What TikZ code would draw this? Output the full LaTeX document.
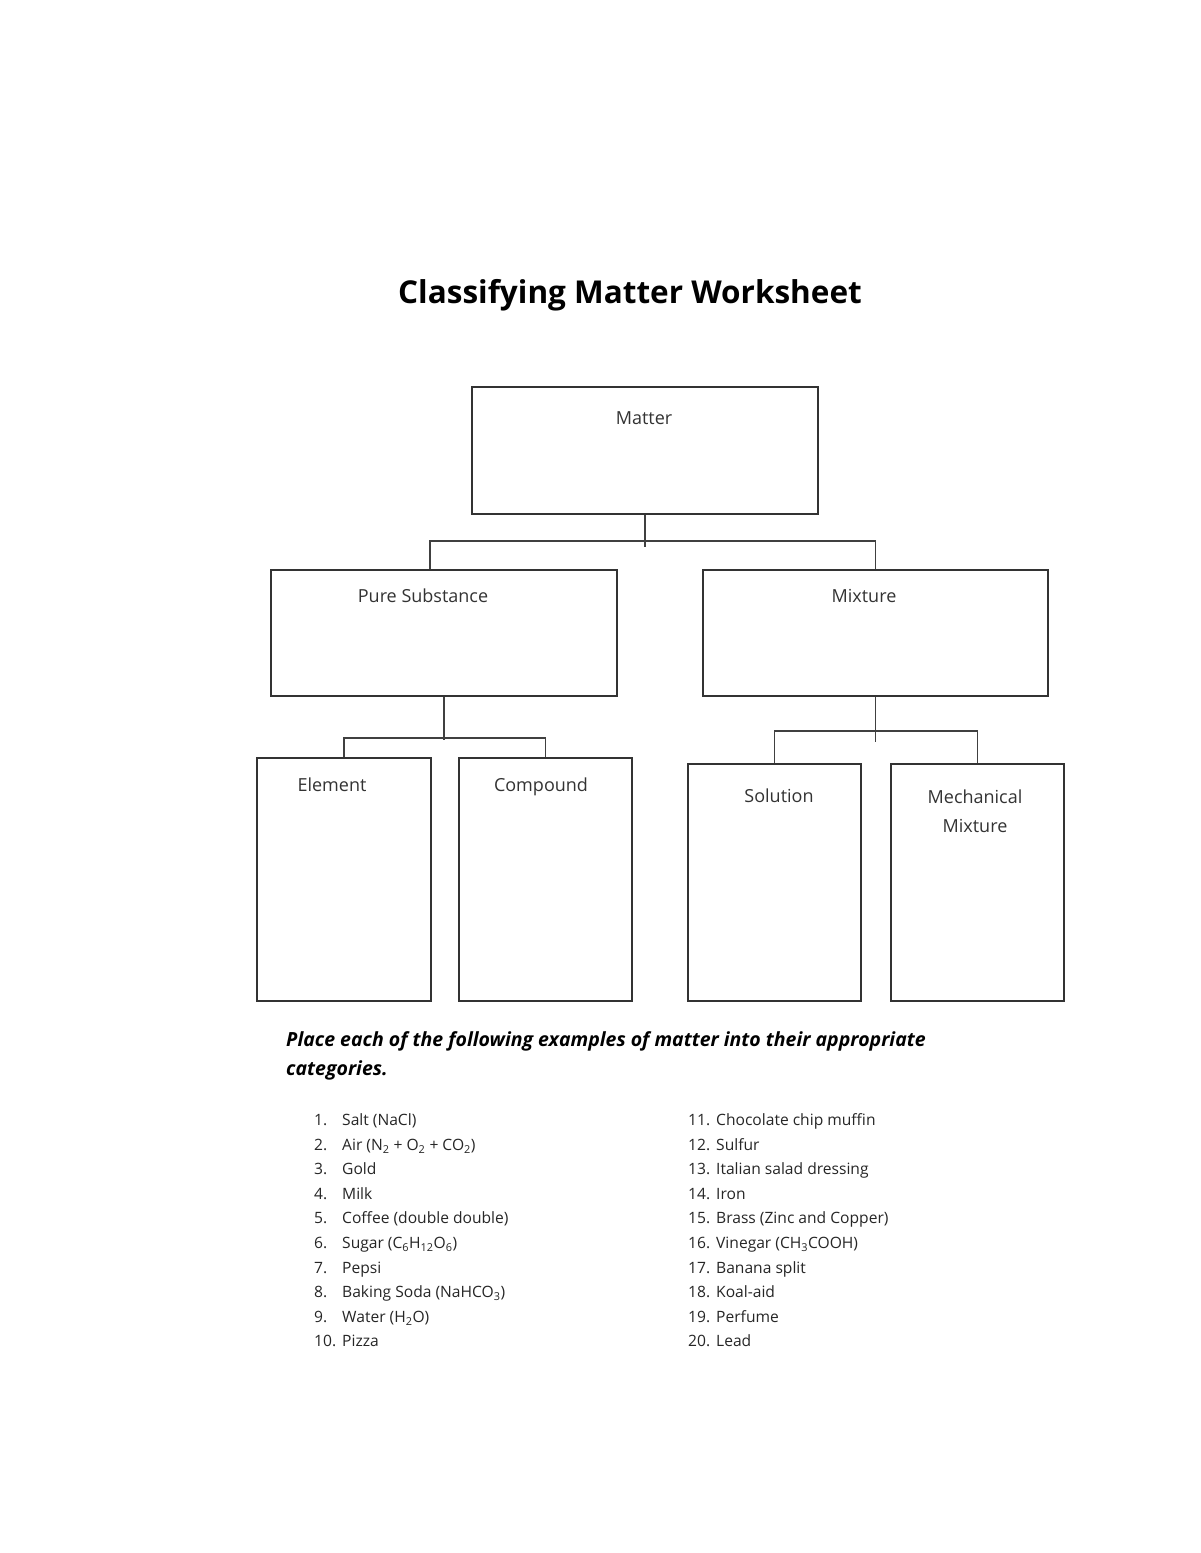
\documentclass[tikz,border=0pt]{standalone}
\usepackage{fontspec}
\setmainfont{Open Sans}
\begin{document}
\begin{tikzpicture}[x=1pt,y=-1pt,
  box/.style={draw=black!80,line width=1.8pt,inner sep=0pt,anchor=north west},
  conn/.style={draw=black!75,line width=1.5pt},
  lbl/.style={inner sep=0pt,font=\fontsize{18}{20}\selectfont,text=black!80},
  item/.style={inner sep=0pt,anchor=base west,font=\fontsize{15.6}{17}\selectfont,text=black!85}]
\useasboundingbox (0,0) rectangle (1200,1553);
\fill[white] (0,0) rectangle (1200,1553);
\node[inner sep=0pt,font=\fontsize{31.5}{34}\selectfont\bfseries] (title) at (630,295) {Classifying Matter Worksheet};
% boxes
\node[box,minimum width=346pt,minimum height=127pt] (matter) at (471,386) {};
\node[box,minimum width=346pt,minimum height=126pt] (pure) at (270,569) {};
\node[box,minimum width=345pt,minimum height=126pt] (mix) at (702,569) {};
\node[box,minimum width=174pt,minimum height=243pt] (elem) at (256,757) {};
\node[box,minimum width=173pt,minimum height=243pt] (comp) at (458,757) {};
\node[box,minimum width=173pt,minimum height=237pt] (sol) at (687,763) {};
\node[box,minimum width=173pt,minimum height=237pt] (mech) at (890,763) {};
% labels
\node[lbl] (lmatter) at (644,418) {Matter};
\node[lbl] (lpure) at (423,596) {Pure Substance};
\node[lbl] (lmix) at (864,596) {Mixture};
\node[lbl] (lelem) at (332,785) {Element};
\node[lbl,anchor=base] (lcomp) at (541,791) {Compound};
\node[lbl] (lsol) at (779,796) {Solution};
\node[lbl,align=center,font=\fontsize{18}{29}\selectfont] (lmech) at (975,811) {Mechanical\\Mixture};
% connectors
\draw[conn] (matter.south) -- ++(0,32);
\draw[conn] ([xshift=-14pt]pure.north) -- ++(0,-28) -| (mix.north);
\draw[conn] (pure.south) -- ++(0,43);
\draw[conn] (elem.north) -- ++(0,-19) -| (comp.north);
\draw[conn] (mix.south) -- ++(0,45);
\draw[conn] (sol.north) -- ++(0,-32) -| (mech.north);
% instructions
\node[inner sep=0pt,anchor=west,align=left,font=\fontsize{19.5}{29}\selectfont\bfseries\itshape] (instr) at (286,1056) {Place each of the following examples of matter into their appropriate\\categories.};
% list
\foreach \n/\t [count=\i from 0] in {1./Salt (NaCl),2./Air (N\textsubscript{2} + O\textsubscript{2} + CO\textsubscript{2}),3./Gold,4./Milk,5./Coffee (double double),6./Sugar (C\textsubscript{6}H\textsubscript{12}O\textsubscript{6}),7./Pepsi,8./Baking Soda (NaHCO\textsubscript{3}),9./Water (H\textsubscript{2}O),10./Pizza}{
  \node[item] (ln\i) at (314,1125.5+24.6*\i) {\n};
  \node[item] (lt\i) at (342,1125.5+24.6*\i) {\t};
}
\foreach \n/\t [count=\i from 0] in {11./Chocolate chip muffin,12./Sulfur,13./Italian salad dressing,14./Iron,15./Brass (Zinc and Copper),16./Vinegar (CH\textsubscript{3}COOH),17./Banana split,18./Koal-aid,19./Perfume,20./Lead}{
  \node[item] (rn\i) at (688,1125.5+24.6*\i) {\n};
  \node[item] (rt\i) at (716,1125.5+24.6*\i) {\t};
}
\end{tikzpicture}
\end{document}
